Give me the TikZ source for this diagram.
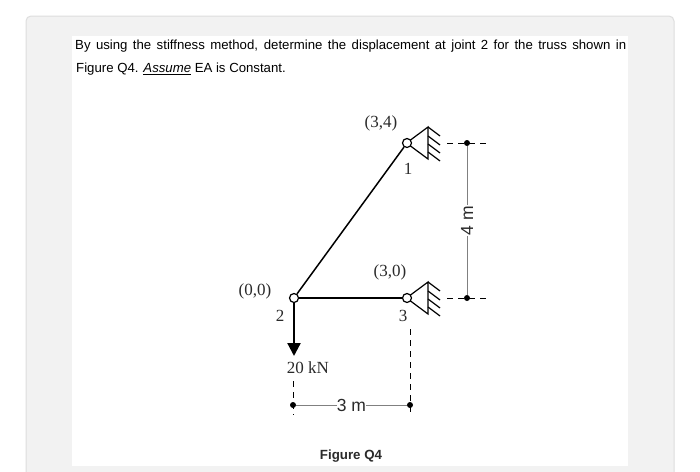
\documentclass[tikz,border=0pt]{standalone}
\usepackage{fontspec}
\setmainfont{Liberation Serif}
\newfontfamily\armfont{Liberation Sans}
\usetikzlibrary{arrows.meta}
\definecolor{panelgray}{HTML}{F2F2F2}
\definecolor{panelline}{HTML}{DEDEDE}
\definecolor{inkgray}{HTML}{2A2A2A}
\tikzset{
    joint/.style={circle,draw,line width=1.2pt,fill=white,inner sep=0pt,minimum size=9pt},
    member/.style={line width=1.5pt},
    dimline/.style={gray,line width=1pt},
    dimdash/.style={black,dashed,dash pattern=on 6pt off 5pt,line width=0.6pt},
    dimdot/.style={circle,fill=black,inner sep=0pt,minimum size=6pt},
    serifnum/.style={text=inkgray,font=\fontsize{17}{17}\selectfont,inner sep=1pt},
    sanslabel/.style={text=inkgray,font=\armfont\fontsize{17.5}{17.5}\selectfont,inner sep=1pt},
    bodyline/.style={text=black,font=\armfont\fontsize{13.2}{15}\selectfont,inner sep=0pt,anchor=west}
}
\begin{document}
\begin{tikzpicture}[x=1pt,y=-1pt]
    \useasboundingbox (0,0) rectangle (700,471);
    % panel
    \fill[white] (0,0) rectangle (700,471);
    \draw[panelline,fill=panelgray,rounded corners=5pt,line width=1pt] (26,480) -- (26,16) -- (674,16) -- (674,480);
    \fill[white] (72,36) rectangle (628,466);
    % question
    \node[bodyline] (lineone) at (75,46) {\makebox[551pt][s]{By using the stiffness method, determine the displacement at joint 2 for the truss shown in}};
    \node[bodyline] (linetwo) at (76,69.5) {Figure Q4. \underline{\textit{Assume}} EA is Constant.};
    % joints
    \node[joint] (jointa) at (407,143) {};
    \node[joint] (jointb) at (294,298) {};
    \node[joint] (jointc) at (407,298) {};
    \coordinate (loadend) at (294,356);
    \draw[member] (jointb) -- (jointa);
    \draw[member] (jointb) -- (jointc);
    \draw[line width=2.2pt,-{Triangle[length=13pt,width=13pt]}] (jointb) -- (loadend);
    % supports
    \foreach \j in {jointa,jointc} {
        \draw[line width=1.2pt,shift={(\j)}] (3.5,-3) -- (21,-16) -- (21,16) -- (3.5,3);
        \foreach \y in {-16,-7,1,9}
            \draw[line width=1.2pt,shift={(\j)}] (21,\y) -- (33,\y+9);
    }
    % dimensions
    \node[dimdot] (dimtop) at (467,143) {};
    \node[dimdot] (dimbot) at (467,298) {};
    \node[dimdot] (dimleft) at (293,405) {};
    \node[dimdot] (dimright) at (410,405) {};
    \coordinate (topa) at (447,143);
    \coordinate (topb) at (487,143);
    \coordinate (bota) at (447,298);
    \coordinate (botb) at (487,298);
    \coordinate (lefta) at (293,381);
    \coordinate (leftb) at (293,415);
    \coordinate (righta) at (410,329);
    \coordinate (rightb) at (410,415);
    \draw[dimdash] (topa) -- (topb);
    \draw[dimdash] (bota) -- (botb);
    \draw[dimdash] (lefta) -- (leftb);
    \draw[dimdash] (righta) -- (rightb);
    \draw[dimline] (dimtop) -- (dimbot) node[midway,fill=white,rotate=90,sanslabel] (dimv) {4 m};
    \draw[dimline] (dimleft) -- (dimright) node[midway,fill=white,sanslabel,inner xsep=0pt] (dimh) {3 m};
    % labels
    \node[serifnum] (laba) at (381,123) {(3,4)};
    \node[serifnum] (labc) at (390,272) {(3,0)};
    \node[serifnum] (labb) at (255,291) {(0,0)};
    \node[serifnum] (numa) at (408,169) {1};
    \node[serifnum] (numb) at (280,316) {2};
    \node[serifnum] (numc) at (403,316) {3};
    \node[serifnum] (loadlab) at (308,368) {20 kN};
    \node[text=inkgray,font=\armfont\bfseries\fontsize{13.3}{13.3}\selectfont,inner sep=1pt] (caption) at (351,456) {Figure Q4};
\end{tikzpicture}
\end{document}
